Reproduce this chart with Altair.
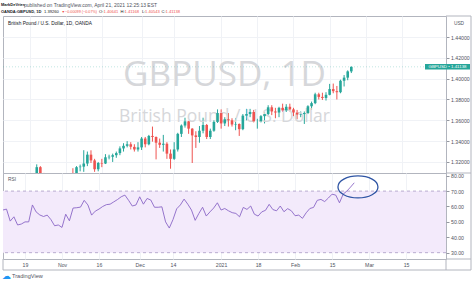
import json
import altair as alt
import numpy as np
import pandas as pd

# ---------------- data ----------------
# trading-day index: 0 = 2020-10-19 ... 89 = 2021-02-23 (Dec 25 / Jan 1 skipped)
candle_idx = list(range(0, 90))
opens = [1.2915, 1.2950, 1.2940, 1.3150, 1.3085, 1.3040, 1.3015, 1.3045, 1.2975, 1.2920,
         1.2945, 1.2930, 1.3050, 1.3005, 1.3150, 1.3155, 1.3185, 1.3270, 1.3215, 1.3130,
         1.3190, 1.3185, 1.3245, 1.3250, 1.3265, 1.3285, 1.3330, 1.3355, 1.3370, 1.3345,
         1.3320, 1.3340, 1.3425, 1.3370, 1.3450, 1.3440, 1.3385, 1.3365, 1.3375, 1.3280,
         1.3230, 1.3320, 1.3470, 1.3550, 1.3590, 1.3520, 1.3455, 1.3440, 1.3500, 1.3555,
         1.3440, 1.3500, 1.3585, 1.3670, 1.3570, 1.3610, 1.3600, 1.3560, 1.3565, 1.3515,
         1.3645, 1.3660, 1.3680, 1.3590, 1.3590, 1.3640, 1.3660, 1.3725, 1.3685, 1.3675,
         1.3720, 1.3695, 1.3730, 1.3705, 1.3675, 1.3655, 1.3660, 1.3670, 1.3735, 1.3765,
         1.3850, 1.3825, 1.3815, 1.3845, 1.3900, 1.3880, 1.3870, 1.3980, 1.4010, 1.4070]
highs = [1.2980, 1.2960, 1.3177, 1.3160, 1.3095, 1.3050, 1.3080, 1.3070, 1.3000, 1.2990,
         1.2975, 1.3065, 1.3140, 1.3160, 1.3175, 1.3313, 1.3300, 1.3312, 1.3230, 1.3200,
         1.3230, 1.3275, 1.3270, 1.3280, 1.3300, 1.3350, 1.3380, 1.3400, 1.3390, 1.3370,
         1.3390, 1.3440, 1.3440, 1.3460, 1.3540, 1.3445, 1.3425, 1.3460, 1.3390, 1.3320,
         1.3390, 1.3480, 1.3560, 1.3625, 1.3595, 1.3525, 1.3495, 1.3545, 1.3625, 1.3565,
         1.3520, 1.3600, 1.3705, 1.3705, 1.3630, 1.3670, 1.3620, 1.3620, 1.3570, 1.3660,
         1.3710, 1.3710, 1.3700, 1.3615, 1.3650, 1.3680, 1.3745, 1.3745, 1.3720, 1.3730,
         1.3760, 1.3755, 1.3760, 1.3720, 1.3700, 1.3685, 1.3685, 1.3745, 1.3780, 1.3865,
         1.3865, 1.3865, 1.3870, 1.3950, 1.3953, 1.3930, 1.3990, 1.4035, 1.4080, 1.4117]
lows = [1.2900, 1.2865, 1.2920, 1.3050, 1.3030, 1.2990, 1.3000, 1.2960, 1.2915, 1.2885,
        1.2855, 1.2920, 1.2915, 1.2990, 1.3110, 1.3105, 1.3160, 1.3190, 1.3105, 1.3110,
        1.3150, 1.3180, 1.3225, 1.3200, 1.3240, 1.3265, 1.3300, 1.3340, 1.3320, 1.3300,
        1.3300, 1.3315, 1.3340, 1.3360, 1.3395, 1.3225, 1.3335, 1.3300, 1.3230, 1.3135,
        1.3220, 1.3300, 1.3440, 1.3530, 1.3470, 1.3190, 1.3335, 1.3385, 1.3475, 1.3420,
        1.3420, 1.3490, 1.3575, 1.3520, 1.3545, 1.3540, 1.3540, 1.3505, 1.3450, 1.3505,
        1.3600, 1.3630, 1.3580, 1.3520, 1.3580, 1.3570, 1.3650, 1.3650, 1.3620, 1.3630,
        1.3680, 1.3680, 1.3685, 1.3640, 1.3610, 1.3630, 1.3565, 1.3660, 1.3700, 1.3755,
        1.3800, 1.3795, 1.3790, 1.3840, 1.3860, 1.3800, 1.3860, 1.3925, 1.3985, 1.4054]
closes = [1.2950, 1.2940, 1.3150, 1.3085, 1.3040, 1.3015, 1.3045, 1.2975, 1.2920, 1.2945,
          1.2930, 1.3050, 1.3005, 1.3150, 1.3155, 1.3185, 1.3270, 1.3215, 1.3130, 1.3190,
          1.3185, 1.3245, 1.3250, 1.3265, 1.3285, 1.3330, 1.3355, 1.3370, 1.3345, 1.3320,
          1.3340, 1.3425, 1.3370, 1.3450, 1.3440, 1.3385, 1.3365, 1.3375, 1.3280, 1.3230,
          1.3320, 1.3470, 1.3550, 1.3590, 1.3520, 1.3455, 1.3440, 1.3500, 1.3555, 1.3440,
          1.3500, 1.3585, 1.3670, 1.3570, 1.3610, 1.3600, 1.3560, 1.3565, 1.3515, 1.3645,
          1.3660, 1.3680, 1.3590, 1.3590, 1.3640, 1.3660, 1.3725, 1.3685, 1.3675, 1.3720,
          1.3695, 1.3730, 1.3705, 1.3675, 1.3655, 1.3660, 1.3670, 1.3735, 1.3765, 1.3850,
          1.3825, 1.3815, 1.3845, 1.3900, 1.3880, 1.3870, 1.3980, 1.4010, 1.4070, 1.4114]

rsi_idx = list(range(-6, 90))
rsi_vals = [57.7, 58.3, 50.5, 53.3, 48.0, 48.6,
            50.0, 50.0, 61.0, 56.5, 54.5, 53.5, 54.4, 51.5, 47.5, 48.0,
            46.4, 55.0, 50.7, 59.0, 59.2, 59.6, 64.0, 61.0, 54.4, 57.0,
            58.3, 60.0, 61.2, 61.5, 63.0, 64.5, 66.3, 67.4, 64.0, 60.3,
            61.0, 66.3, 61.5, 65.2, 64.2, 59.5, 59.5, 59.8, 50.0, 46.0,
            51.5, 58.5, 61.0, 64.8, 61.5, 57.7, 51.0, 55.5, 59.5, 53.8,
            56.5, 59.0, 62.4, 57.7, 58.7, 57.2, 56.0, 55.5, 53.3, 59.4,
            58.1, 60.3, 55.0, 53.8, 56.5, 57.5, 61.4, 58.0, 57.2, 60.3,
            56.6, 58.6, 57.2, 54.0, 54.4, 52.3, 55.9, 58.7, 59.4, 64.0,
            64.6, 63.2, 65.5, 68.0, 67.4, 62.4, 68.0, 70.0, 72.6, 75.4]

time_tick_idx = [0, 10, 20, 31, 40, 53, 63, 73, 83, 93, 103]
time_tick_lab = ["19", "Nov", "16", "Dec", "14", "2021", "18", "Feb", "15", "Mar", "15"]
price_ticks = [1.32, 1.34, 1.36, 1.38, 1.40, 1.42, 1.44]
rsi_ticks = [30, 40, 50, 60, 70, 80]
rsi_levels = [70, 30]
last_price = 1.41138
ellipse_at = [90.0, 72.7]   # (trading-day index, RSI) centre of the hand-drawn ellipse

# ---------------- layout constants ----------------
W = 443
H_HEAD = 16
H_PRICE = 157
H_RSI = 86
AXW = 25
FRAME = "#b2b5be"
GRID = "#f0f2f6"
FONT = "Liberation Sans"
LABC = "#50535e"

xs = alt.Scale(domain=[-5.95, 113.8], nice=False, zero=False)
ys = alt.Scale(domain=[1.3094, 1.4602], nice=False, zero=False)
rs = alt.Scale(domain=[25.9, 81.75], nice=False, zero=False)

candles = pd.DataFrame({"idx": candle_idx, "open": opens, "high": highs,
                        "low": lows, "close": closes})
candles["dir"] = np.where(candles["close"] >= candles["open"], "up", "down")
color_dir = alt.Color("dir:N", scale=alt.Scale(domain=["up", "down"],
                                                range=["#26a69a", "#ef5350"]), legend=None)

label_expr = "%s[indexof(%s, datum.value)]" % (json.dumps(time_tick_lab), json.dumps(time_tick_idx))

one = pd.DataFrame({"a": [0]})

# ---------------- header ----------------
head_bold = pd.DataFrame({
    "t": ["MarkDeVries", "OANDA:GBPUSD, 1D"],
    "x": [-2, -2], "y": [5, 11.5], "s": [4.0, 4.0]})
head_norm = pd.DataFrame({
    "t": ["published on TradingView.com, April 21, 2021 12:25:13 EST",
          "1.39260", "\u25bc", "\u22120.00099 (\u22120.07%)",
          "O:", "1.40641", "H:", "1.41168", "L:", "1.40543", "C:", "1.41138"],
    "x": [21, 41, 58.5, 62, 96, 100.5, 117.5, 121.5, 139, 142, 158.5, 162.5],
    "y": [5, 11.5, 11.5, 11.5, 11.5, 11.5, 11.5, 11.5, 11.5, 11.5, 11.5, 11.5],
    "s": [5.0, 4.1, 3.6, 3.75, 4.1, 4.1, 4.1, 4.1, 4.1, 4.1, 4.1, 4.1],
    "c": ["#50535e", "#131722", "#ef5350", "#ef5350", "#131722", "#ef5350",
          "#131722", "#ef5350", "#131722", "#ef5350", "#131722", "#ef5350"]})

hb = alt.Chart(head_bold).mark_text(align="left", baseline="middle", font=FONT,
                                    fontWeight="bold", color="#131722").encode(
    x=alt.X("x:Q", scale=None), y=alt.Y("y:Q", scale=None), text="t:N",
    size=alt.Size("s:Q", scale=None, legend=None))
hn = alt.Chart(head_norm).mark_text(align="left", baseline="middle", font=FONT).encode(
    x=alt.X("x:Q", scale=None), y=alt.Y("y:Q", scale=None), text="t:N",
    size=alt.Size("s:Q", scale=None, legend=None),
    color=alt.Color("c:N", scale=None))
header = alt.layer(hb, hn).properties(width=W, height=H_HEAD,
                                      view=alt.ViewBackground(stroke=None))

# ---------------- price pane ----------------
wicks = alt.Chart(candles).mark_rule(clip=True, strokeWidth=1).encode(
    x=alt.X("idx:Q", scale=xs, axis=alt.Axis(values=time_tick_idx, tickCount=40, labels=False,
                                             ticks=False, domain=False, grid=True,
                                             gridColor=GRID, title=None)),
    y=alt.Y("low:Q", scale=ys, axis=alt.Axis(orient="right", values=price_ticks, tickCount=40,
                                             format=".5f", title=None, grid=True,
                                             gridColor=GRID, domain=False, tickSize=3,
                                             tickColor="#9598a1", labelFont=FONT,
                                             labelFontSize=5.2, labelColor=LABC,
                                             labelPadding=1.5, labelOverlap=False)),
    y2="high:Q", color=color_dir)
bodies = alt.Chart(candles).mark_bar(clip=True, size=2.6).encode(
    x=alt.X("idx:Q", scale=xs), y=alt.Y("open:Q", scale=ys), y2="close:Q", color=color_dir)

wm1 = alt.Chart(one).mark_text(font="Open Sans", fontSize=35, color="#d6d7da",
                               align="center", baseline="middle").encode(
    x=alt.value(W / 2), y=alt.value(59), text=alt.value("GBPUSD, 1D"))
wm2 = alt.Chart(one).mark_text(font="Open Sans", fontSize=17.5, color="#d6d7da",
                               align="center", baseline="middle").encode(
    x=alt.value(W / 2), y=alt.value(101), text=alt.value("British Pound / U.S. Dollar"))
ptitle = alt.Chart(one).mark_text(font=FONT, fontSize=4.8, color="#131722",
                                  align="left", baseline="middle").encode(
    x=alt.value(5), y=alt.value(8), text=alt.value("British Pound / U.S. Dollar, 1D, OANDA"))
usd = alt.Chart(one).mark_text(font=FONT, fontSize=4.8, color=LABC,
                               align="center", baseline="middle").encode(
    x=alt.value(W + 13), y=alt.value(8), text=alt.value("USD"))

last_df = pd.DataFrame({"p": [last_price]})
last_df["top"] = last_df["p"] + 0.0026
last_df["bot"] = last_df["p"] - 0.0026
last_df["lab"] = "GBPUSD \u2022 %.5f" % last_price
last_line = alt.Chart(last_df).mark_rule(color="#26a69a", strokeDash=[1, 2], opacity=0.35,
                                         strokeWidth=0.8).encode(
    y=alt.Y("p:Q", scale=ys), x=alt.value(0), x2=alt.value(W))
last_box = alt.Chart(last_df).mark_rect(color="#26a69a", clip=False).encode(
    x=alt.value(W - 21), x2=alt.value(W + 24),
    y=alt.Y("top:Q", scale=ys), y2="bot:Q")
last_txt = alt.Chart(last_df).mark_text(color="white", font=FONT, fontSize=4.4,
                                        align="center", baseline="middle").encode(
    x=alt.value(W + 1.5), y=alt.Y("p:Q", scale=ys), text="lab:N")

pframe = [
    alt.Chart(one).mark_rule(color=FRAME).encode(
        x=alt.value(W + AXW), y=alt.value(0), y2=alt.value(H_PRICE)),
    alt.Chart(one).mark_rule(color=FRAME).encode(
        x=alt.value(W), x2=alt.value(W + AXW), y=alt.value(0)),
    alt.Chart(one).mark_rule(color=FRAME).encode(
        x=alt.value(W), x2=alt.value(W + AXW), y=alt.value(H_PRICE)),
]

price = alt.layer(wicks, wm1, wm2, last_line, bodies, ptitle, usd, last_box, last_txt,
                  *pframe).properties(width=W, height=H_PRICE,
                                      view=alt.ViewBackground(stroke=FRAME))

# ---------------- RSI pane ----------------
rsi_df = pd.DataFrame({"idx": rsi_idx, "rsi": rsi_vals})

band = alt.Chart(one).mark_rect(color="#f3eafb").encode(
    x=alt.value(0), x2=alt.value(W), y=alt.datum(70, scale=rs), y2=alt.datum(30))
lvl = alt.Chart(pd.DataFrame({"v": rsi_levels})).mark_rule(
    color="#a99bc4", strokeDash=[3, 3], strokeWidth=0.8).encode(y=alt.Y("v:Q", scale=rs))
rline = alt.Chart(rsi_df).mark_line(color="#8a66c6", strokeWidth=0.9, clip=True).encode(
    x=alt.X("idx:Q", scale=xs, axis=alt.Axis(values=time_tick_idx, tickCount=40,
                                             labelExpr=label_expr, grid=True, gridColor=GRID,
                                             domain=False, ticks=False, labelPadding=3,
                                             labelFont=FONT, labelFontSize=5.2,
                                             labelColor=LABC, title=None,
                                             labelOverlap=False)),
    y=alt.Y("rsi:Q", scale=rs, axis=alt.Axis(orient="right", values=rsi_ticks, tickCount=40,
                                             format=".2f", title=None, grid=False,
                                             domain=False, tickSize=3, tickColor="#9598a1",
                                             labelFont=FONT, labelFontSize=5.2,
                                             labelColor=LABC, labelPadding=1.5,
                                             labelOverlap=False)))
rsi_lab = alt.Chart(one).mark_text(font=FONT, fontSize=4.8, color=LABC,
                                   align="left", baseline="middle").encode(
    x=alt.value(5), y=alt.value(7), text=alt.value("RSI"))
ell_df = pd.DataFrame({"idx": [ellipse_at[0]], "rsi": [ellipse_at[1]]})
ellipse = alt.Chart(ell_df).mark_point(
    shape="M-1,0 A1,0.55 0 1,1 1,0 A1,0.55 0 1,1 -1,0 Z", size=1600, filled=False,
    stroke="#2f55a4", strokeWidth=1.3, opacity=1).encode(
    x=alt.X("idx:Q", scale=xs), y=alt.Y("rsi:Q", scale=rs))

HB = H_RSI + 11
rframe = [
    alt.Chart(one).mark_rule(color=FRAME).encode(
        x=alt.value(W + AXW), y=alt.value(0), y2=alt.value(HB)),
    alt.Chart(one).mark_rule(color=FRAME).encode(
        x=alt.value(W), y=alt.value(H_RSI), y2=alt.value(HB)),
    alt.Chart(one).mark_rule(color=FRAME).encode(
        x=alt.value(0), y=alt.value(H_RSI), y2=alt.value(HB)),
    alt.Chart(one).mark_rule(color=FRAME).encode(
        x=alt.value(0), x2=alt.value(W + AXW), y=alt.value(HB)),
    alt.Chart(one).mark_rule(color=FRAME).encode(
        x=alt.value(W), x2=alt.value(W + AXW), y=alt.value(H_RSI)),
]
logo_icon = alt.Chart(one).mark_text(font="DejaVu Sans", fontSize=9, color="#2196f3",
                                     align="left", baseline="middle").encode(
    x=alt.value(-1), y=alt.value(HB + 6), text=alt.value("\u2601"))
logo_txt = alt.Chart(one).mark_text(font=FONT, fontSize=5.6, color=LABC,
                                    align="left", baseline="middle").encode(
    x=alt.value(9), y=alt.value(HB + 6), text=alt.value("TradingView"))

rsi = alt.layer(band, lvl, rline, rsi_lab, ellipse, *rframe, logo_icon,
                logo_txt).properties(width=W, height=H_RSI,
                                     view=alt.ViewBackground(stroke=FRAME))

chart = alt.vconcat(header, price, rsi, spacing=0, bounds="flush").properties(
    padding={"left": 1, "top": 0, "right": 0, "bottom": 0},
    background="white")

chart.save("out.html", embed_options={"renderer": "svg", "actions": False})
